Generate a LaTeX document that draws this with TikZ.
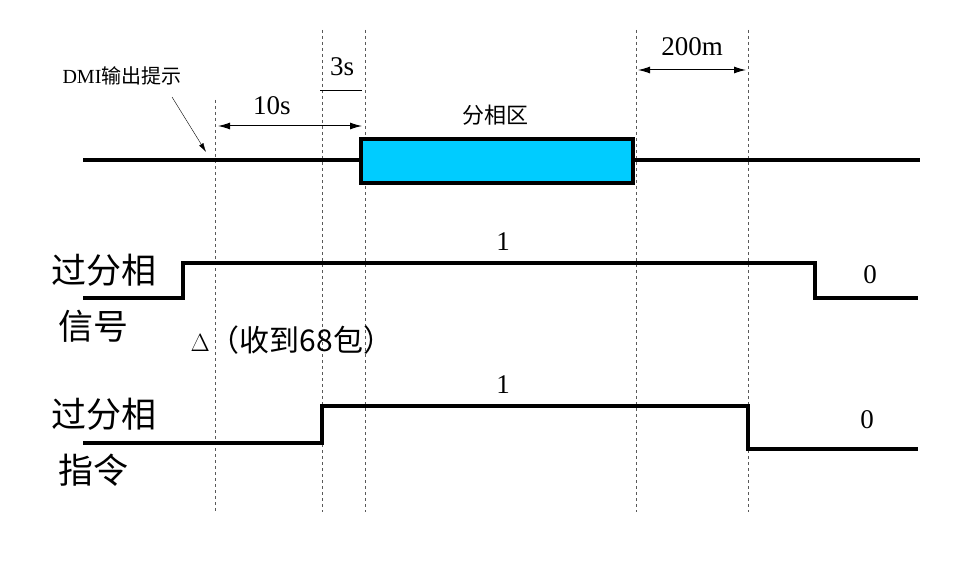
\documentclass[tikz,border=0pt]{standalone}
\usepackage{fontspec}
\setmainfont{Liberation Serif}
\newfontfamily\cjk{Noto Sans CJK SC}
\usetikzlibrary{arrows.meta}
\begin{document}
\begin{tikzpicture}[x=1pt,y=-1pt,
  dl/.style={dashed,thin,gray!70!black},
  sig/.style={line width=3.5pt,line join=miter},
  big/.style={font=\cjk\fontsize{35}{35}\selectfont},
  num/.style={font=\fontsize{27}{27}\selectfont},
  dim/.style={line width=1pt,{Latex[length=12pt,width=7pt]}-{Latex[length=12pt,width=7pt]}},
  arr/.style={thin,-{Latex[length=9pt,width=5pt]}}]
\useasboundingbox (0,0) rectangle (963,567);
\foreach \xx/\yt in {215/100,322/30,365/30,636/30,748/30}
  \draw[dl] (\xx,\yt) -- (\xx,512);
\draw[sig] (83,160) -- (361,160);
\draw[sig] (633,160) -- (920,160);
\node[draw=black,line width=3.5pt,fill={rgb,255:red,0;green,204;blue,255},minimum width=272pt,minimum height=44pt,inner sep=0pt] (zone) at (497,161) {};
\node[font=\cjk\fontsize{22}{22}\selectfont] (zl) at (495,115) {分相区};
\coordinate (a1) at (218,126); \coordinate (a2) at (362,126);
\draw[dim] (a1) -- (a2);
\node[num] (t10) at (272,106) {10s};
\coordinate (b1) at (320,90); \coordinate (b2) at (362,90);
\draw[thin] (b1) -- (b2);
\node[num] (t3) at (342,67) {3s};
\coordinate (c1) at (638,70); \coordinate (c2) at (746,70);
\draw[dim] (c1) -- (c2);
\node[num] (t200) at (692,47) {200m};
\node[font=\fontsize{20}{20}\selectfont] (dmi) at (122,76) {DMI{\cjk 输出提示}};
\coordinate (dm) at (206,152);
\draw[arr] (172,97) -- (dm);
\draw[sig] (83,298) -- (183,298) -- (183,263) -- (815,263) -- (815,298) -- (918,298);
\node[num] (s1a) at (503,242) {1};
\node[num] (s1b) at (870,275) {0};
\node[big] (l1a) at (104,270) {过分相};
\node[big] (l1b) at (93,326) {信号};
\node[font=\cjk\fontsize{30}{30}\selectfont] (d1) at (292,340) {$\Delta$（收到68包）};
\draw[sig] (83,443) -- (322,443) -- (322,406) -- (748,406) -- (748,449) -- (918,449);
\node[num] (s2a) at (503,385) {1};
\node[num] (s2b) at (867,420) {0};
\node[big] (l2a) at (104,414) {过分相};
\node[big] (l2b) at (93,470) {指令};
\end{tikzpicture}
\end{document}
